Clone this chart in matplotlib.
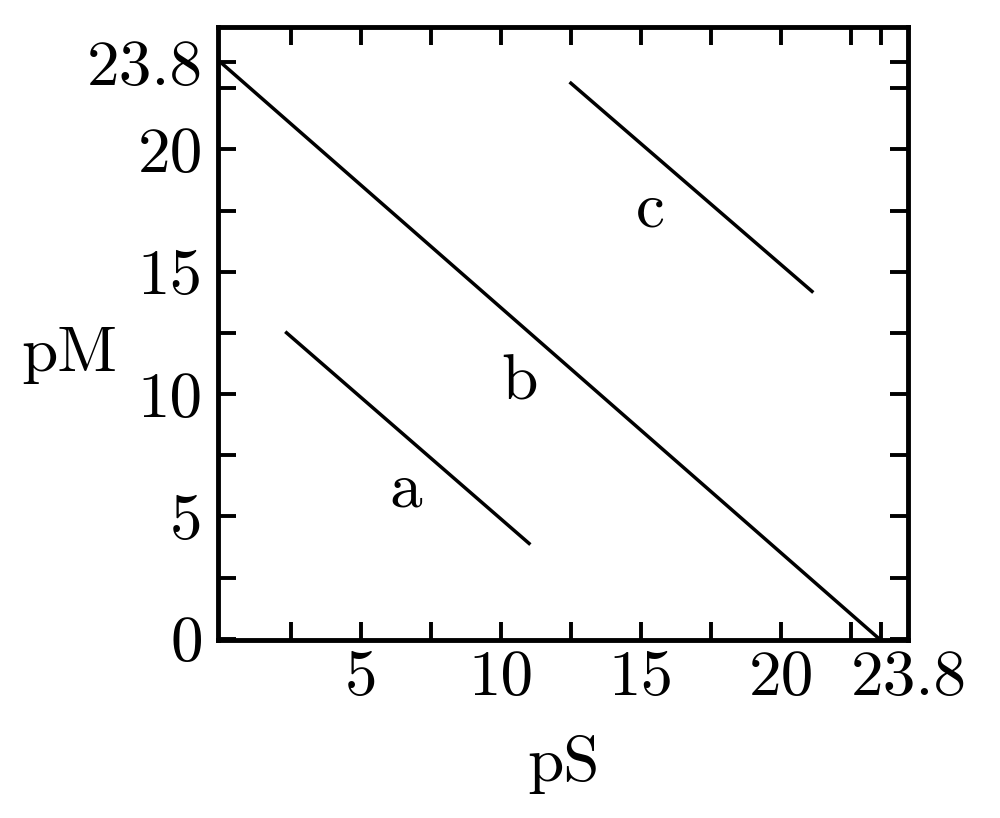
import matplotlib
matplotlib.use("Agg")
import matplotlib.pyplot as plt
from matplotlib.transforms import ScaledTranslation

# line endpoints (pS, pM)
a_x = [2.3, 11.05]
a_y = [12.55, 3.85]
b_x = [0.0, 23.5]
b_y = [23.55, 0.0]
c_x = [12.45, 21.15]
c_y = [22.75, 14.15]

labels = ["a", "b", "c"]
label_x = [6.6, 10.65, 15.35]
label_y = [6.05, 10.45, 17.5]

xticks_major = [5, 10, 15, 20, 23.55]
xtick_labels = ["5", "10", "15", "20", "23.8"]
yticks_major = [0, 5, 10, 15, 20, 23.55]
ytick_labels = ["0", "5", "10", "15", "20", "23.8"]
xticks_minor = [2.5, 7.5, 12.5, 17.5, 22.5]
yticks_minor = [2.5, 7.5, 12.5, 17.5, 22.5]

plt.rcParams['font.family'] = ['cmr10', 'DejaVu Serif']
plt.rcParams['axes.formatter.use_mathtext'] = True

FS = 47

fig = plt.figure(figsize=(10, 8.18), dpi=100)
ax = fig.add_axes([0.218, 0.2176, 0.69, 0.7488])

for xs, ys in [(a_x, a_y), (b_x, b_y), (c_x, c_y)]:
    ax.plot(xs, ys, color="black", lw=2.5, solid_capstyle="butt")

for t, x, y in zip(labels, label_x, label_y):
    ax.text(x, y, t, fontsize=FS, ha="center", va="center")

ax.set_xlim(-0.1, 24.53)
ax.set_ylim(-0.05, 24.98)

ax.set_xticks(xticks_major)
ax.set_xticklabels(xtick_labels)
ax.set_yticks(yticks_major)
ax.set_yticklabels(ytick_labels)
ax.set_xticks(xticks_minor, minor=True)
ax.set_yticks(yticks_minor, minor=True)

ax.tick_params(which="both", direction="in", length=13, width=2.8,
               top=True, right=True, labelsize=FS)
ax.tick_params(axis="x", which="major", pad=7)
ax.tick_params(axis="y", which="major", pad=11)

# last x tick label sits shifted to the right, as in the reference
lab = ax.get_xticklabels()[-1]
lab.set_transform(lab.get_transform() + ScaledTranslation(0.28, 0, fig.dpi_scale_trans))

for s in ax.spines.values():
    s.set_linewidth(3.5)

ax.set_xlabel("pS", fontsize=FS, labelpad=20)
ax.set_ylabel("pM", fontsize=FS, rotation=0, va="center")
ax.yaxis.set_label_coords(-0.215, 0.465)

fig.savefig("out.png", dpi=100)
